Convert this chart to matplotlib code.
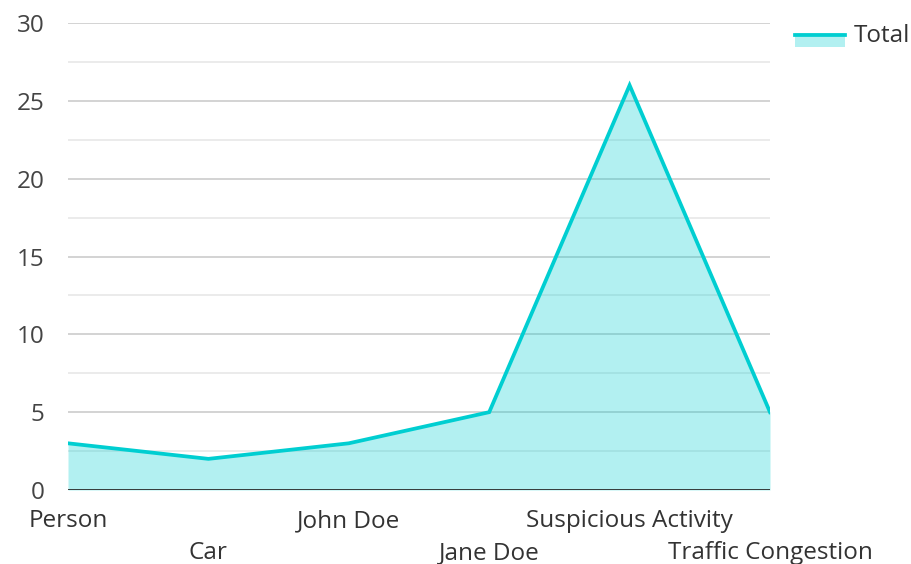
import matplotlib.pyplot as plt
from matplotlib.patches import Rectangle
from matplotlib.lines import Line2D

plt.rcParams['font.family'] = ['Open Sans', 'DejaVu Sans']

categorias = ["Person", "Car", "John Doe", "Jane Doe", "Suspicious Activity", "Traffic Congestion"]
totais = [3, 2, 3, 5, 26, 5]
yticks = [0, 5, 10, 15, 20, 25, 30]

cor = '#00CED1'
fs = 17.5

fig = plt.figure(figsize=(9.12, 5.64), dpi=100)
ax = fig.add_axes([68/912, 74/564, 702/912, 467/564])

x = list(range(len(categorias)))
ax.fill_between(x, totais, 0, color=cor, alpha=0.3, linewidth=0, zorder=2)
ax.plot(x, totais, color=cor, linewidth=2.7, zorder=3, solid_joinstyle='miter')

ax.set_xlim(0, len(categorias) - 1)
ax.set_ylim(0, 30)

# grade
for v in yticks[1:]:
    ax.axhline(v, color='#c8c8c8', linewidth=1.1, zorder=1)
for v in [2.5, 7.5, 12.5, 17.5, 22.5, 27.5]:
    ax.axhline(v, color='#e6e6e6', linewidth=1.1, zorder=1)
ax.axhline(0, color='#2a2a2a', linewidth=2, zorder=4)

for s in ax.spines.values():
    s.set_visible(False)

ax.set_yticks(yticks)
ax.set_yticklabels([str(v) for v in yticks], fontsize=fs, color='#444444')
ax.tick_params(axis='y', length=0, pad=17)
ax.set_xticks([])

# rotulos alternados
for i, nome in enumerate(categorias):
    off = -22.5 if i % 2 == 0 else -45.5
    ax.annotate(nome, xy=(i, 0), xycoords=('data', 'axes fraction'),
                xytext=(0, off), textcoords='offset points',
                ha='center', va='center', fontsize=fs, color='#333333',
                annotation_clip=False)

# legenda
fig.patches.append(Rectangle((795/912, 1 - 47/564), 50/912, 14/564,
                             transform=fig.transFigure, facecolor=cor, alpha=0.3,
                             linewidth=0))
fig.lines.append(Line2D([795/912, 845/912], [1 - 34.5/564, 1 - 34.5/564],
                        transform=fig.transFigure, color=cor, linewidth=2.7))
fig.text(854/912, 1 - 36.5/564, "Total", fontsize=fs, color='#333333', va='center', ha='left')

plt.savefig("out.png", dpi=100)
